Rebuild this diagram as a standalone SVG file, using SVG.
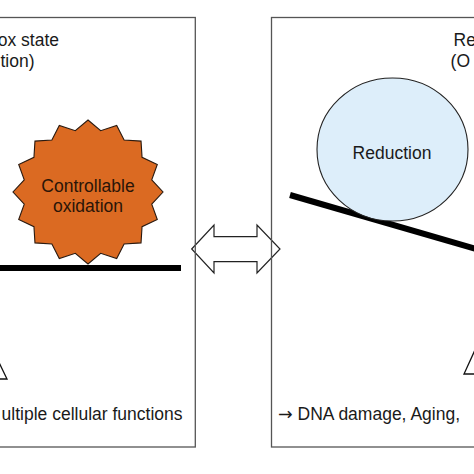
<svg xmlns="http://www.w3.org/2000/svg" width="474" height="474" viewBox="0 0 474 474">
<style>
.panel{fill:none;stroke:#555;stroke-width:1.3}
.t{font-family:"Liberation Sans",Arial,sans-serif;font-size:17.5px;fill:#1a1a1a}
.arr{font-family:"DejaVu Sans",sans-serif}
.bar{stroke:#000;stroke-width:6;fill:none}
.fulcrum{fill:#fff;stroke:#111;stroke-width:1.3}
</style>
<rect x="0" y="0" width="474" height="474" fill="#fff"/>
<g id="connectors">
<polygon points="191.7,249 214,225 214,236.7 257,236.7 257,225 280,249 257,273 257,261.7 214,261.7 214,273" fill="#fff" stroke="#222" stroke-width="1.2" stroke-linejoin="miter"/>
</g>
<g id="left-panel">
<rect class="panel" x="-10" y="17.5" width="205.3" height="429.5"/>
<text class="t" x="59" y="46" text-anchor="end">ox state</text>
<text class="t" x="34.5" y="67" text-anchor="end">tion)</text>
<line class="bar" x1="-10" y1="268" x2="181" y2="268"/>
<polygon class="fulcrum" points="-4.6,355 7,379 -16,379"/>
<text class="t" x="182.5" y="420" text-anchor="end">ultiple cellular functions</text>
</g>
<g id="controllable-oxidation">
<polygon points="88,120 100.68,130.7 116.7,125.48 124.11,140.03 141.03,141.09 142.05,157.27 157.29,164.45 151.75,179.81 163,192 151.75,204.19 157.29,219.55 142.05,226.73 141.03,242.91 124.11,243.97 116.7,258.52 100.68,253.3 88,264 75.32,253.3 59.3,258.52 51.89,243.97 34.97,242.91 33.95,226.73 18.71,219.55 24.25,204.19 13,192 24.25,179.81 18.71,164.45 33.95,157.27 34.97,141.09 51.89,140.03 59.3,125.48 75.32,130.7" fill="#db6a22" stroke="#2a1a10" stroke-width="1.1" stroke-linejoin="miter"/>
<text class="t" x="88" y="192" text-anchor="middle" style="fill:#2a1508">Controllable</text>
<text class="t" x="88" y="212" text-anchor="middle" style="fill:#2a1508">oxidation</text>
</g>
<g id="right-panel">
<rect class="panel" x="271.5" y="17.5" width="215" height="429.5"/>
<text class="t" x="453.6" y="46">Re</text>
<text class="t" x="450.6" y="67">(O</text>
<line class="bar" x1="290" y1="195" x2="482" y2="250.7"/>
<polygon class="fulcrum" points="475,350 486,374 464,374"/>
<text class="t" x="278" y="420"><tspan class="arr">→</tspan> DNA damage, Aging,</text>
</g>
<g id="reduction">
<ellipse cx="392.5" cy="149.5" rx="75.5" ry="71.5" fill="#ddeefa" stroke="#222" stroke-width="1.1"/>
<text class="t" x="392" y="159" text-anchor="middle">Reduction</text>
</g>
</svg>
